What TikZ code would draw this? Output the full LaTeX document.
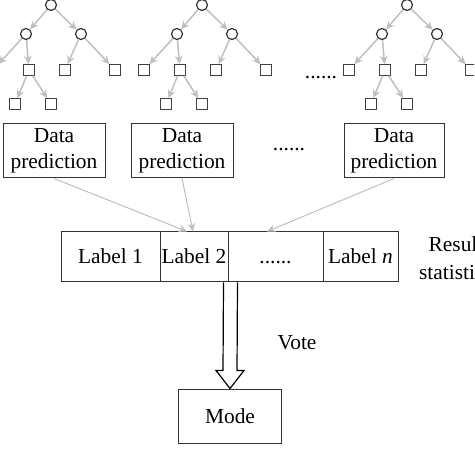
\documentclass[tikz,border=0pt]{standalone}
\usepackage{fontspec}
\setmainfont{Liberation Serif}
\usetikzlibrary{arrows.meta}

\begin{document}
\begin{tikzpicture}[x=0.5pt, y=-0.5pt,
        every node/.style={font=\fontsize{10.7pt}{13pt}\selectfont},
        inner/.style={circle, draw=black!80, line width=0.6pt, minimum size=5.5pt, inner sep=0pt},
        leaf/.style={rectangle, draw=black!75, line width=0.6pt, minimum size=5.2pt, inner sep=0pt},
        edge/.style={draw=black!25, line width=0.75pt, -{Stealth[length=4.2pt, width=3.8pt]}},
        box/.style={rectangle, draw=black!80, line width=0.5pt, inner sep=0pt},
        cell/.style={box, minimum height=25pt, text height=1.5ex, text depth=0pt}]
    \useasboundingbox (0,0) rectangle (474,474);
    \clip (0,0) rectangle (474,474);
    % decision trees
    \foreach \i/\x in {1/51, 2/202, 3/407} {
        \node[inner] (r\i) at (\x,5) {};
        \node[inner] (a\i) at (\x-25,34) {};
        \node[inner] (b\i) at (\x+30,34) {};
        \node[leaf] (la\i) at (\x-58,70) {};
        \node[leaf] (lb\i) at (\x-22,70) {};
        \node[leaf] (lc\i) at (\x+14,70) {};
        \node[leaf] (ld\i) at (\x+64,70) {};
        \node[leaf] (sa\i) at (\x-36,104) {};
        \node[leaf] (sb\i) at (\x,104) {};
        \draw[edge] (r\i) -- (a\i);
        \draw[edge] (r\i) -- (b\i);
        \draw[edge] (a\i) -- (la\i);
        \draw[edge] (a\i) -- (lb\i);
        \draw[edge] (b\i) -- (lc\i);
        \draw[edge] (b\i) -- (ld\i);
        \draw[edge] (lb\i) -- (sa\i);
        \draw[edge] (lb\i) -- (sb\i);
    }
    \node[anchor=base] (tdots) at (321,79) {......};
    % predictions
    \node[box, minimum width=51pt, minimum height=27pt, align=center] (d1) at (54,151) {Data\\prediction};
    \node[box, minimum width=51pt, minimum height=27pt, align=center] (d2) at (182,151) {Data\\prediction};
    \node[box, minimum width=50pt, minimum height=27pt, align=center] (d3) at (394,151) {Data\\prediction};
    \node (ddots) at (289,150) {......};
    % result row
    \node[cell, minimum width=49.5pt] (c1) at (110.5,257) {Label 1};
    \node[cell, minimum width=34pt] (c2) at (194,257) {Label 2};
    \node[cell, minimum width=47.5pt] (c3) at (275.5,257) {......};
    \node[cell, minimum width=37.5pt] (c4) at (360.5,257) {Label \textit{n}};
    \node[align=center] (res) at (456,258) {Result\\[1pt]statistics};
    \draw[edge, line width=0.5pt] (d1.south) -- ([xshift=-3.5pt]c2.north);
    \draw[edge, line width=0.5pt] (d2.south) -- ([xshift=-0.5pt]c2.north);
    \draw[edge, line width=0.5pt] (d3.south) -- ([xshift=-4.25pt]c3.north);
    % vote
    \node[box, minimum width=51.5pt, minimum height=27pt] (mode) at (230,416) {Mode};
    \node (vote) at (297,343) {Vote};
    \coordinate (vt) at ([xshift=1pt]c2.south east);
    \coordinate (hb) at ([yshift=9pt]mode.north);
    \draw[line width=0.6pt, fill=white] ([xshift=-3.5pt]vt) -- ([xshift=-3.5pt]hb) -- ([xshift=-7pt]hb)
        -- (mode.north) -- ([xshift=7pt]hb) -- ([xshift=3.5pt]hb) -- ([xshift=3.5pt]vt);
\end{tikzpicture}
\end{document}
